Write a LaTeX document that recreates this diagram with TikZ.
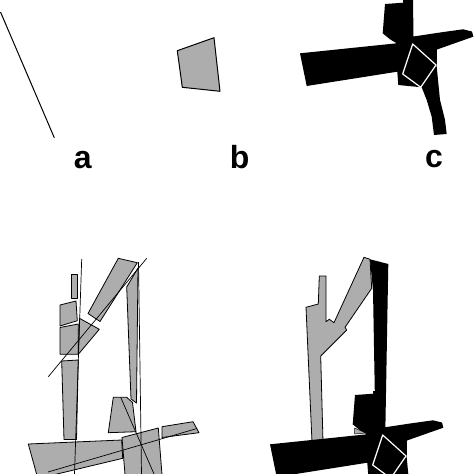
\documentclass[tikz,border=0pt]{standalone}
\usepackage{fontspec}
\setmainfont{Liberation Sans}
\definecolor{piecegray}{gray}{0.68}

\tikzset{
  crossc/.pic={
    \fill[black] (403,0) -- (413,0) -- (413.5,36.5) -- (440,32.5) -- (463,29.3) -- (472,31.5)
      -- (473.3,36.7) -- (437,49.5) -- (436.7,66.7) -- (440,100) -- (445,120) -- (446.7,134)
      -- (434,135) -- (431.7,116.7) -- (426.7,100) -- (421.7,87.3) -- (398.3,85) -- (397.3,71.7)
      -- (306.7,86) -- (300,53.3) -- (396.7,43.3) -- (390,39.3) -- (382.7,33.3) -- (385,4)
      -- (403.3,2.7) -- cycle;
    \draw[white,line width=1.2pt,line join=round] (412.7,44) -- (436,65) -- (420.7,87.3) -- (402.7,74) -- cycle;
  }
}

\begin{document}
\begin{tikzpicture}[x=1pt,y=-1pt,
  piece/.style={fill=piecegray,draw=black,line width=0.8pt,line join=round},
  cutline/.style={draw=black,line width=0.7pt},
  lbl/.style={font=\fontsize{32}{36}\selectfont\bfseries,anchor=base,inner sep=0pt}]
  \useasboundingbox (0,0) rectangle (474,474);

  % a, b, c
  \draw[line width=1pt] (0.5,12) -- (54.3,137.7);
  \filldraw[piece,line width=1pt] (177.3,50.7) -- (214,37.7) -- (220,91.3) -- (182.3,87.3) -- cycle;
  \pic (cross) at (0,0) {crossc};
  \foreach \x/\y/\t in {82.8/168/a,239.7/168/b,434/167/c}
    \node[lbl] (lbl\t) at (\x,\y) {\t};

  % d
  \filldraw[piece] (71.7,274) rectangle (77.3,298.3);
  \filldraw[piece] (60,305) -- (76,301) -- (77.3,320.7) -- (60,326) -- cycle;
  \filldraw[piece] (60,327.5) -- (78.3,324) -- (78.3,354.3) -- (60,354.3) -- cycle;
  \filldraw[piece] (79.5,318.3) -- (99.3,329.3) -- (78.3,354.3) -- cycle;
  \filldraw[piece] (118.3,258.3) -- (137.3,262.7) -- (100,321.5) -- (88,313.5) -- cycle;
  \filldraw[piece] (126.7,287) -- (138,268) -- (136.5,403) -- (131,399) -- cycle;
  \filldraw[piece] (61.7,361) -- (78.3,360) -- (76.5,439.5) -- (64,439.5) -- cycle;
  \filldraw[piece] (113.3,397.3) -- (126.7,397.3) -- (132.5,402.5) -- (136,431.7) -- (108.3,432.7) -- cycle;
  \filldraw[piece] (28.3,444) -- (121.7,440) -- (122.7,458.3) -- (55,474.5) -- (36.7,474.5) -- cycle;
  \filldraw[piece] (122,437.5) -- (158.3,428) -- (162,474.5) -- (125,474.5) -- cycle;
  \filldraw[piece] (162,426.7) -- (193,421.7) -- (199,432.7) -- (162,437.5) -- cycle;
  \foreach \ax/\ay/\bx/\by in {81.7/259/74.5/474,138.5/262/141.5/474,48.3/376.7/146.7/258.3,
                               48/472/197/428.5,120.7/397.3/154/474}
    \draw[cutline] (\ax,\ay) -- (\bx,\by);

  % e
  \filldraw[piece] (319.3,276) -- (326,276) -- (326,321.7) -- (329.3,319.3) -- (334,322.7)
    -- (364,257.3) -- (370,259.3) -- (371.7,288.3) -- (345,327.3) -- (346.7,330) -- (320.7,356)
    -- (323,442) -- (312,442) -- (306,307.3) -- (318.3,304) -- cycle;
  \fill[black] (370,259.3) -- (388.3,264) -- (385.3,432) -- (375.5,432) -- (373,290) -- cycle;
  \begin{scope}
    \clip (230,250) rectangle (474,474);
    \pic (crosse) at (-30,391) {crossc};
  \end{scope}
  \filldraw[piece,line width=0.5pt] (354.5,428) -- (366,433) -- (354.5,434) -- cycle;
\end{tikzpicture}
\end{document}
